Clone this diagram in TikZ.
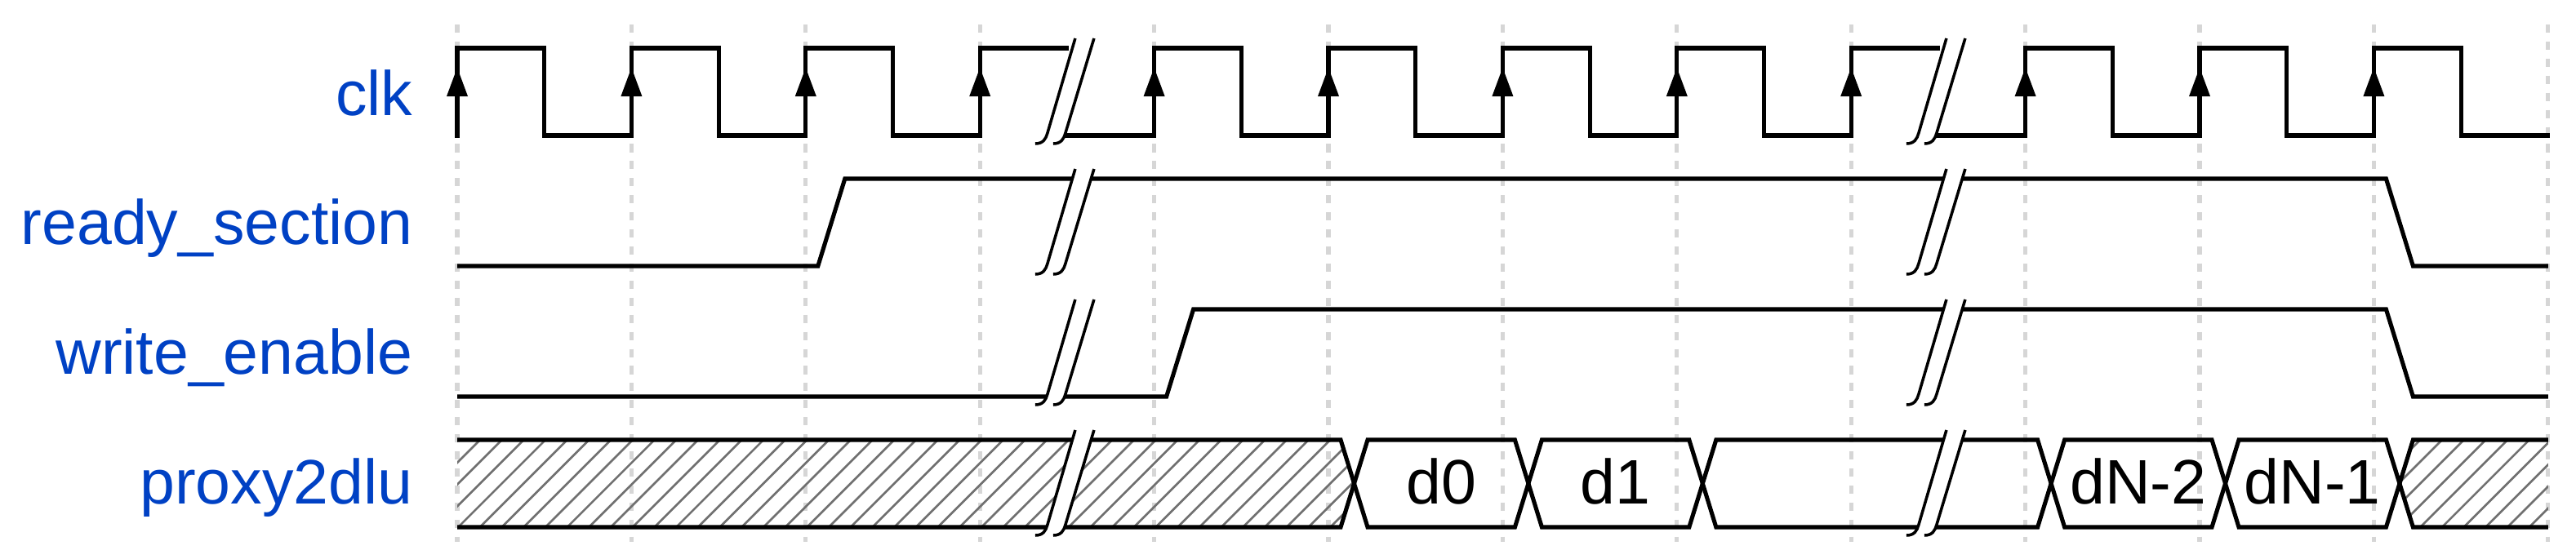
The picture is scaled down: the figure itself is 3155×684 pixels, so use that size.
\documentclass[tikz,border=0pt]{standalone}
\usepackage{fontspec}
\setmainfont{Liberation Sans}

\definecolor{labelblue}{HTML}{0041C4}
\definecolor{gridgrey}{HTML}{D6D6D6}
\definecolor{hatchgrey}{HTML}{707070}

\def\xo{560}    % first clock edge
\def\per{213.4} % one clock period

% gap mark: centre, top, bottom
\newcommand\gapmark[3]{%
  \fill [white]
    (#1-39,#3) .. controls (#1-29,#3) and (#1-26,#3-6) .. (#1-24,#3-13)
    -- (#1+10,#2) -- (#1+33,#2) -- (#1-2,#3-13)
    .. controls (#1-4,#3-6) and (#1-7,#3) .. (#1-17,#3)
    -- cycle
  ;
  \draw [gap line]
    (#1-39,#3) .. controls (#1-29,#3) and (#1-26,#3-6) .. (#1-24,#3-13)
    -- (#1+10,#2)
  ;
  \draw [gap line]
    (#1-17,#3) .. controls (#1-7,#3) and (#1-4,#3-6) .. (#1-2,#3-13)
    -- (#1+33,#2)
  ;
}

% data box between two clock periods
\newcommand\busbox[2]{%
  \draw [wave]
    (\xo+\per*#1+31.5,592.5) -- (\xo+\per*#1+48,539)
      -- (\xo+\per*#2+15,539) -- (\xo+\per*#2+31.5,592.5)
      -- (\xo+\per*#2+15,646) -- (\xo+\per*#1+48,646)
      -- cycle
  ;
}

\begin{document}
\begin{tikzpicture}[x=0.01cm, y=-0.01cm,
    wave/.style={line width=1.45pt, line join=miter},
    gap line/.style={line width=1pt},
    grid line/.style={gridgrey, line width=1.5pt, dash pattern=on 2.85pt off 3.1pt},
    hatch/.style={hatchgrey, line width=0.75pt},
    sig label/.style={labelblue, anchor=base east, inner sep=0pt,
      font=\fontsize{21.9}{26}\selectfont},
    bus label/.style={anchor=base, inner sep=0pt,
      font=\fontsize{21.9}{26}\selectfont},
  ]
  \useasboundingbox (0,0) rectangle (3155,684);

  % grid
  \foreach \k in {0,...,12}
    \draw [grid line] (\xo+\per*\k,30) -- (\xo+\per*\k,664);

  % signal names
  \node [sig label] (clk) at (506,141) {clk};
  \node [sig label] (ready section) at (506,299) {ready\_section};
  \node [sig label] (write enable) at (506,458) {write\_enable};
  \node [sig label] (proxy2dlu) at (506,617) {proxy2dlu};

  % clk
  \foreach \k in {0,...,11} {
    \ifnum\k=3 \def\fall{++(-3,107)}
    \else\ifnum\k=8 \def\fall{++(-3,107)}
    \else \def\fall{-- ++(0,107)}\fi\fi
    \draw [wave, line cap=rect]
      (\xo+\per*\k,166) -- ++(0,-107) -- ++(\per/2,0)
        \fall -- (\xo+\per*\k+\per,166)
    ;
    \fill (\xo+\per*\k,83) -- ++(13,35) -- ++(-26,0) -- cycle;
  }

  % ready_section
  \draw [wave]
    (\xo,326) -- (\xo+\per*2+15,326)
      -- (\xo+\per*2+48,219) -- (\xo+\per*11+15,219)
      -- (\xo+\per*11+48,326) -- (\xo+\per*12,326)
  ;

  % write_enable
  \draw [wave]
    (\xo,486) -- (\xo+\per*4+15,486)
      -- (\xo+\per*4+48,379) -- (\xo+\per*11+15,379)
      -- (\xo+\per*11+48,486) -- (\xo+\per*12,486)
  ;

  % proxy2dlu
  \begin{scope}
    \clip (\xo,539) -- (\xo+\per*5+15,539) -- (\xo+\per*5+31.5,592.5)
      -- (\xo+\per*5+15,646) -- (\xo,646) -- cycle;
    \foreach \m in {-1,...,45}
      \draw [hatch] (597+26.7*\m,530) -- ++(-125,125);
  \end{scope}
  \draw [wave]
    (\xo,539) -- (\xo+\per*5+15,539) -- (\xo+\per*5+31.5,592.5)
      -- (\xo+\per*5+15,646) -- (\xo,646)
  ;
  \busbox{5}{6}
  \busbox{6}{7}
  \busbox{7}{9}
  \busbox{9}{10}
  \busbox{10}{11}
  \begin{scope}
    \clip (\xo+\per*12,539) -- (\xo+\per*11+48,539) -- (\xo+\per*11+31.5,592.5)
      -- (\xo+\per*11+48,646) -- (\xo+\per*12,646) -- cycle;
    \foreach \m in {86,...,101}
      \draw [hatch] (597+26.7*\m,530) -- ++(-125,125);
  \end{scope}
  \draw [wave]
    (\xo+\per*12,539) -- (\xo+\per*11+48,539) -- (\xo+\per*11+31.5,592.5)
      -- (\xo+\per*11+48,646) -- (\xo+\per*12,646)
  ;
  \node [bus label] (d0) at (\xo+\per*5.5+31.5,617) {d0};
  \node [bus label] (d1) at (\xo+\per*6.5+31.5,617) {d1};
  \node [bus label] (dN-2) at (\xo+\per*9.5+31.5,617) {dN-2};
  \node [bus label] (dN-1) at (\xo+\per*10.5+31.5,617) {dN-1};

  % gaps
  \foreach \k in {3.5,8.5} {
    \pgfmathsetmacro\c{\xo+\per*\k}
    \foreach \t in {59,219,379,539} {
      \gapmark{\c}{\t-12}{\t+117}
    }
  }
\end{tikzpicture}
\end{document}
